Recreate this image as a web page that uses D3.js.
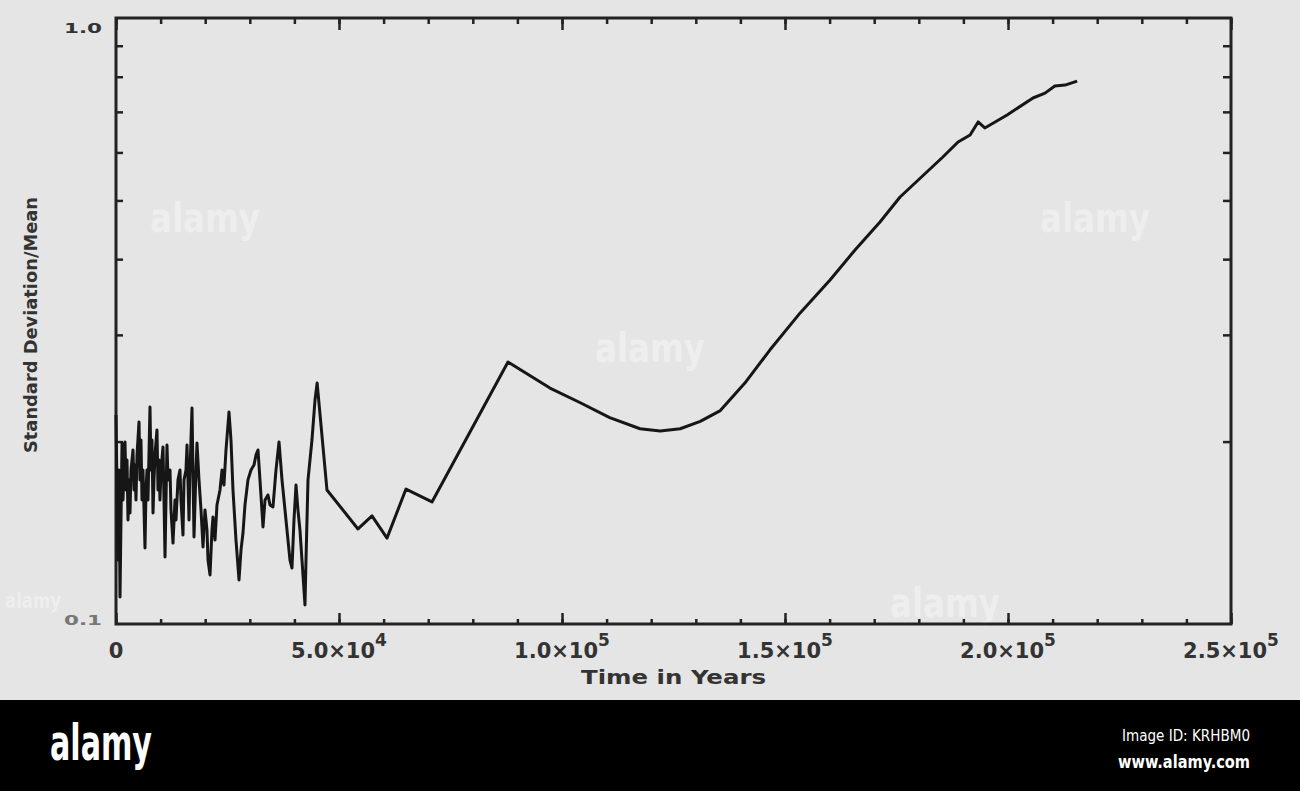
<!DOCTYPE html>
<html><head><meta charset="utf-8">
<script src="https://cdn.jsdelivr.net/npm/d3@7"></script>
<style>html,body{margin:0;padding:0;background:#e5e5e5;}svg{display:block;}</style>
</head><body>
<svg id="chart" width="1300" height="791"></svg>
<script>
// ---- data ----
const years = [0,450,670,900,1120,1350,1570,1790,2020,2240,2470,2690,2910,3140,3360,3810,4040,4260,4480,4710,5160,5380,5600,5830,6050,6500,6730,6950,7170,7620,7850,8070,8300,8520,8740,9190,9420,9640,9860,10090,10540,10760,10990,11210,11430,11660,12110,12330,12780,13230,13450,13900,14350,14570,15020,15250,15690,15920,16370,16590,17040,17490,17940,18160,18610,19060,19510,19950,20400,20630,21080,21520,21750,22200,22640,23320,23770,24210,24660,25340,25780,26230,26900,27580,28030,28470,28920,29590,30270,30940,31390,31840,32280,32960,33410,34080,34530,35200,35870,36550,37220,37890,38560,39010,39460,39910,40360,40800,41250,41700,42370,42600,43050,43940,44620,45100,47300,54260,57400,60760,65020,70850,87890,97300,104000,110700,117500,122000,126500,131000,135500,141000,146600,153400,160100,165700,171300,175800,185400,188800,191500,193300,194800,199800,205600,208300,210500,212800,215500];
const ratio = [0.2213,0.1275,0.1795,0.1108,0.1485,0.1989,0.1602,0.1795,0.1997,0.1664,0.1865,0.1485,0.1729,0.1525,0.1795,0.1937,0.1664,0.1829,0.1602,0.1901,0.2155,0.1729,0.2012,0.1602,0.1795,0.1335,0.1664,0.1795,0.1602,0.2281,0.1795,0.2012,0.1525,0.1729,0.1901,0.2090,0.1664,0.1865,0.1602,0.1795,0.1959,0.1602,0.1290,0.1602,0.1974,0.1729,0.1795,0.1542,0.1360,0.1602,0.1485,0.1729,0.1795,0.1602,0.1402,0.1729,0.1795,0.1974,0.1485,0.1795,0.2272,0.1392,0.1795,0.1989,0.1729,0.1542,0.1340,0.1542,0.1429,0.1275,0.1205,0.1429,0.1502,0.1376,0.1572,0.1664,0.1795,0.1696,0.1937,0.2238,0.2012,0.1664,0.1376,0.1182,0.1325,0.1413,0.1572,0.1729,0.1795,0.1829,0.1901,0.1937,0.1729,0.1446,0.1602,0.1633,0.1572,0.1560,0.1795,0.1997,0.1729,0.1542,0.1376,0.1275,0.1237,0.1485,0.1696,0.1542,0.1429,0.1275,0.1075,0.1275,0.1729,0.2012,0.2342,0.2498,0.1664,0.1435,0.1508,0.1386,0.1670,0.1590,0.2706,0.2451,0.2320,0.2190,0.2100,0.2082,0.2100,0.2160,0.2250,0.2498,0.2832,0.3261,0.3695,0.4142,0.4607,0.5066,0.5897,0.6243,0.6411,0.6737,0.6585,0.6918,0.7379,0.7517,0.7721,0.7750,0.7869];
const xMajorTicks = [0, 50000, 100000, 150000, 200000, 250000];
const xTickMantissa = ["0", "5.0×10", "1.0×10", "1.5×10", "2.0×10", "2.5×10"];
const xTickExponent = ["", "4", "5", "5", "5", "5"];
const xMinorTicks = d3.range(0, 250001, 10000);
const yMinorTicks = [0.2,0.3,0.4,0.5,0.6,0.7,0.8,0.9];
const yTickLabels = [{v:1.0, t:"1.0"}, {v:0.1, t:"0.1"}];
const xTitle = "Time in Years";
const yTitle = "Standard Deviation/Mean";

// ---- layout ----
const L = 116, R = 1231, T = 18, B = 624;
const svg = d3.select("#chart");
const ink = "#222";

svg.append("rect").attr("width",1300).attr("height",700).attr("fill","#e5e5e5");

const x = d3.scaleLinear().domain([0,250000]).range([L,R]);
const y = d3.scaleLog().domain([0.1,1.0]).range([B,T]);

// faint watermarks
const wm = [[205,232,110],[650,362,110],[1095,232,110],[945,617,110],[33,608,56]];
svg.selectAll("text.wm").data(wm).enter().append("text").attr("class","wm")
  .attr("x",d=>d[0]).attr("y",d=>d[1]).attr("text-anchor","middle")
  .attr("font-family","DejaVu Sans Condensed, DejaVu Sans").attr("font-weight","bold")
  .attr("font-size",d=>d[2]>100?40:22).attr("textLength",d=>d[2]).attr("lengthAdjust","spacingAndGlyphs")
  .attr("fill","#ffffff").attr("opacity",0.35).text("alamy");

// ticks
function axisStyle(g){ g.select(".domain").remove(); g.selectAll("line").attr("stroke",ink).attr("stroke-width",2.5); g.selectAll("text").remove(); }
svg.append("g").attr("transform",`translate(0,${B})`).call(d3.axisBottom(x).tickValues(xMinorTicks).tickSize(-5)).call(axisStyle);
svg.append("g").attr("transform",`translate(0,${B})`).call(d3.axisBottom(x).tickValues(xMajorTicks).tickSize(-11)).call(axisStyle);
svg.append("g").attr("transform",`translate(0,${T})`).call(d3.axisTop(x).tickValues(xMinorTicks).tickSize(-6)).call(axisStyle);
svg.append("g").attr("transform",`translate(0,${T})`).call(d3.axisTop(x).tickValues(xMajorTicks).tickSize(-12)).call(axisStyle);
svg.append("g").attr("transform",`translate(${L},0)`).call(d3.axisLeft(y).tickValues(yMinorTicks).tickSize(-7)).call(axisStyle);
svg.append("g").attr("transform",`translate(${R},0)`).call(d3.axisRight(y).tickValues(yMinorTicks).tickSize(-8)).call(axisStyle);

// frame
svg.append("rect").attr("x",L).attr("y",T).attr("width",R-L).attr("height",B-T)
  .attr("fill","none").attr("stroke",ink).attr("stroke-width",3);

// data line
const line = d3.line().x((d,i)=>x(years[i])).y((d,i)=>y(ratio[i]));
svg.append("path").datum(ratio).attr("d",line).attr("fill","none")
  .attr("stroke","#161616").attr("stroke-width",3).attr("stroke-linejoin","round");

// x tick labels
const xl = svg.selectAll("text.xl").data(xMajorTicks).enter().append("text").attr("class","xl")
  .attr("x",d=>x(d)).attr("y",B+34).attr("text-anchor","middle")
  .attr("font-family","DejaVu Sans").attr("font-weight","bold").attr("font-size",21).attr("fill","#333");
xl.append("tspan").text((d,i)=>xTickMantissa[i]);
xl.append("tspan").attr("dy",-12).attr("font-size",17).text((d,i)=>xTickExponent[i]);

// y tick labels
svg.selectAll("text.yl").data(yTickLabels).enter().append("text").attr("class","yl")
  .attr("x",L-14).attr("y",d=>d.v===1.0? y(d.v)+15 : y(d.v)+1).attr("text-anchor","end")
  .attr("font-family","DejaVu Sans").attr("font-weight","bold").attr("font-size",14)
  .attr("textLength",38).attr("lengthAdjust","spacingAndGlyphs")
  .attr("fill",d=>d.v===1.0?"#333":"#777").text(d=>d.t);

// axis titles
svg.append("text").attr("x",(L+R)/2).attr("y",684).attr("text-anchor","middle")
  .attr("font-family","DejaVu Sans").attr("font-weight","bold").attr("font-size",19)
  .attr("textLength",185).attr("lengthAdjust","spacingAndGlyphs").attr("fill","#333").text(xTitle);
svg.append("text").attr("transform","translate(37,325) rotate(-90)").attr("text-anchor","middle")
  .attr("font-family","DejaVu Sans Condensed, DejaVu Sans").attr("font-weight","bold").attr("font-size",18)
  .attr("textLength",256).attr("lengthAdjust","spacingAndGlyphs").attr("fill","#333").text(yTitle);

// bottom band
svg.append("rect").attr("x",0).attr("y",700).attr("width",1300).attr("height",91).attr("fill","#000");
svg.append("text").attr("x",50).attr("y",760).attr("font-family","DejaVu Sans Condensed, DejaVu Sans")
  .attr("font-weight","bold").attr("font-size",50).attr("textLength",102).attr("lengthAdjust","spacingAndGlyphs")
  .attr("fill","#fff").text("alamy");
svg.append("text").attr("x",1250).attr("y",741).attr("text-anchor","end").attr("font-family","DejaVu Sans Condensed, DejaVu Sans")
  .attr("font-size",15).attr("textLength",128).attr("lengthAdjust","spacingAndGlyphs").attr("fill","#fff").text("Image ID: KRHBM0");
svg.append("text").attr("x",1250).attr("y",768).attr("text-anchor","end").attr("font-family","DejaVu Sans Condensed, DejaVu Sans")
  .attr("font-weight","bold").attr("font-size",18).attr("textLength",132).attr("lengthAdjust","spacingAndGlyphs").attr("fill","#fff").text("www.alamy.com");
</script>
</body></html>
